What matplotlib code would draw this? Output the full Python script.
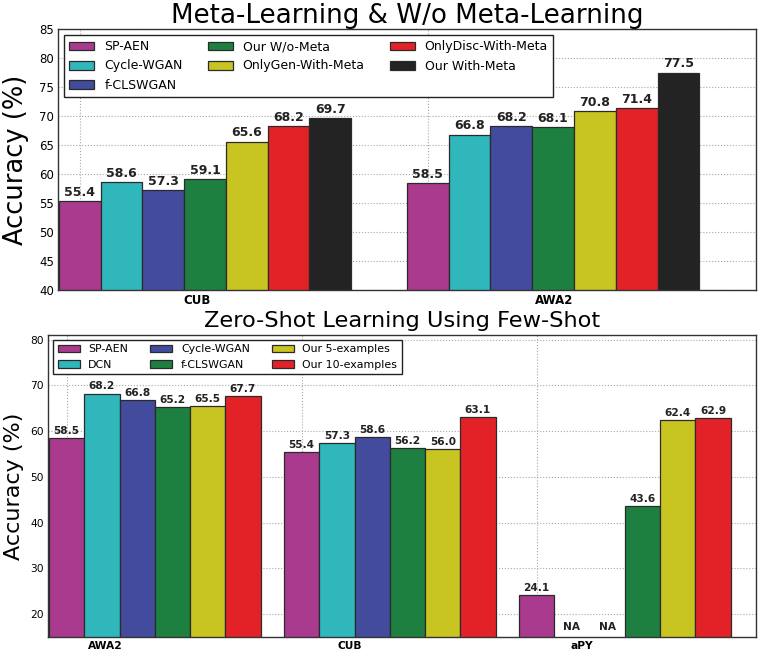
import numpy as np
import matplotlib
matplotlib.use("Agg")
import matplotlib.pyplot as plt

# ---- data: top panel (meta-learning ablation) ----
top_groups = ["CUB", "AWA2"]
top_methods = ["SP-AEN", "Cycle-WGAN", "f-CLSWGAN", "Our W/o-Meta",
               "OnlyGen-With-Meta", "OnlyDisc-With-Meta", "Our With-Meta"]
top_sp_aen = [55.4, 58.5]
top_cycle_wgan = [58.6, 66.8]
top_f_clswgan = [57.3, 68.2]
top_wo_meta = [59.1, 68.1]
top_onlygen = [65.6, 70.8]
top_onlydisc = [68.2, 71.4]
top_with_meta = [69.7, 77.5]

# ---- data: bottom panel (few-shot) ----
bot_groups = ["AWA2", "CUB", "aPY"]
bot_methods = ["SP-AEN", "DCN", "Cycle-WGAN", "f-CLSWGAN",
               "Our 5-examples", "Our 10-examples"]
bot_sp_aen = [58.5, 55.4, 24.1]
bot_dcn = [68.2, 57.3, np.nan]
bot_cycle_wgan = [66.8, 58.6, np.nan]
bot_f_clswgan = [65.2, 56.2, 43.6]
bot_our5 = [65.5, 56.0, 62.4]
bot_our10 = [67.7, 63.1, 62.9]

PURPLE = "#a93a8e"
CYAN = "#2fb7bc"
BLUE = "#434b9c"
GREEN = "#1d8041"
OLIVE = "#c8c421"
RED = "#e32228"
BLACK = "#232323"

top_colors = [PURPLE, CYAN, BLUE, GREEN, OLIVE, RED, BLACK]
bot_colors = [PURPLE, CYAN, BLUE, GREEN, OLIVE, RED]

plt.rcParams["font.family"] = "DejaVu Sans"

W, H = 762, 655
fig = plt.figure(figsize=(W / 100, H / 100), dpi=100)


def px_axes(left, top, right, bottom):
    return fig.add_axes([left / W, 1 - bottom / H, (right - left) / W, (bottom - top) / H])


def style_axes(ax, fs):
    ax.grid(True, which="major", linestyle=":", color="#a8a8a8", linewidth=0.8)
    ax.set_axisbelow(True)
    ax.tick_params(axis="x", which="both", length=0, labelsize=fs, pad=3)
    ax.tick_params(axis="y", which="both", length=0, labelsize=fs, pad=3)
    for s in ax.spines.values():
        s.set_color("#333333")
        s.set_linewidth(1.0)
    for lab in ax.get_xticklabels(minor=True):
        lab.set_fontweight("bold")


def draw_bars(ax, series, labels, colors, width, fs, ind):
    for i, (vals, lab, col) in enumerate(zip(series, labels, colors)):
        vals = np.asarray(vals, dtype=float)
        xs = ind + i * width
        ok = ~np.isnan(vals)
        bars = ax.bar(xs[ok], vals[ok], width, color=col, edgecolor="#2a2a2a",
                      linewidth=0.9, label=lab)
        for b, v in zip(bars, vals[ok]):
            ax.annotate("%.1f" % v, (b.get_x() + b.get_width() / 2, b.get_height()),
                        xytext=(0, 1.5), textcoords="offset points",
                        ha="center", va="bottom", fontsize=fs, fontweight="bold",
                        color="#222222")
        # missing results are marked NA near the baseline
        for x in xs[~ok]:
            ax.text(x, ax.get_ylim()[0] + 1.2, "NA", ha="center", va="bottom",
                    fontsize=fs, fontweight="bold", color="#222222")


# ---------------- top panel ----------------
ax1 = px_axes(58, 29, 756, 290)
ind1 = np.arange(len(top_groups))
w1 = 0.12
ax1.set_ylim(40, 85)
ax1.set_xlim(-0.0626, 1.943)
top_series = [top_sp_aen, top_cycle_wgan, top_f_clswgan, top_wo_meta,
              top_onlygen, top_onlydisc, top_with_meta]
draw_bars(ax1, top_series, top_methods, top_colors, w1, 9, ind1)
ax1.set_yticks(np.arange(40, 86, 5))
ax1.set_xticks(ind1)
ax1.set_xticklabels(["", ""])
ax1.set_xticks(ind1 + np.array([0.336, 0.362]), minor=True)
ax1.set_xticklabels(top_groups, minor=True)
style_axes(ax1, 8.5)
ax1.set_title("Meta-Learning & W/o Meta-Learning", fontsize=18.8, pad=3)
ax1.set_ylabel("Accuracy (%)", fontsize=18.5)
ax1.yaxis.set_label_coords(-0.042, 0.5)
leg1 = ax1.legend(loc="upper left", ncol=3, fontsize=9, fancybox=False,
                  edgecolor="#222222", framealpha=1, borderaxespad=0.5,
                  columnspacing=2.0)
leg1.get_frame().set_linewidth(1.0)

# ---------------- bottom panel ----------------
ax2 = px_axes(48.3, 335, 756, 637)
ind2 = np.arange(len(bot_groups))
w2 = 0.15
ax2.set_ylim(15, 81)
ax2.set_xlim(-0.078, 2.933)
bot_series = [bot_sp_aen, bot_dcn, bot_cycle_wgan, bot_f_clswgan, bot_our5, bot_our10]
draw_bars(ax2, bot_series, bot_methods, bot_colors, w2, 7.6, ind2)
ax2.set_yticks(np.arange(20, 81, 10))
ax2.set_xticks(ind2)
ax2.set_xticklabels(["", "", ""])
ax2.set_xticks(ind2 + np.array([0.163, 0.203, 0.193]), minor=True)
ax2.set_xticklabels(bot_groups, minor=True)
style_axes(ax2, 7.7)
ax2.set_title("Zero-Shot Learning Using Few-Shot", fontsize=16.2, pad=6)
ax2.set_ylabel("Accuracy (%)", fontsize=16)
ax2.yaxis.set_label_coords(-0.034, 0.5)
leg2 = ax2.legend(loc="upper left", ncol=3, fontsize=7.9, fancybox=False,
                  edgecolor="#222222", framealpha=1, borderaxespad=0.45,
                  columnspacing=2.0)
leg2.get_frame().set_linewidth(1.0)

fig.savefig("out.png", dpi=100)
